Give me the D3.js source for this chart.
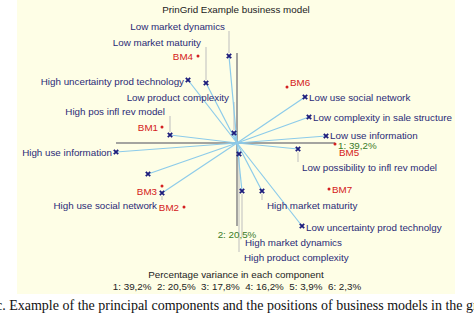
<!DOCTYPE html>
<html>
<head>
<meta charset="utf-8">
<title>PrinGrid</title>
<style>
  body { margin: 0; background: #fff; }
  svg { display: block; }
</style>
</head>
<body>
<script src="https://cdn.jsdelivr.net/npm/d3@7"></script>
<script>
// construct poles and their loadings on component 1 and 2
var poles = ["Low market dynamics", "Low market maturity", "High uncertainty prod technology",
  "Low product complexity", "High pos infl rev model", "High use information", "",
  "High use social network", "Low use social network", "Low complexity in sale structure",
  "Low use information", "Low possibility to infl rev model", "High product complexity",
  "High market dynamics", "High market maturity", "Low uncertainty prod technolgy"];
var poleC1 = [-0.08, -0.31, -0.49, -0.03, -0.67, -1.21, -0.89, -0.75, 0.68, 0.72, 0.89, 0.61, 0.02, 0.05, 0.25, 0.65];
var poleC2 = [0.87, 0.60, 0.63, 0.10, 0.08, -0.09, -0.31, -0.50, 0.46, 0.26, 0.07, -0.06, -0.11, -0.48, -0.48, -0.83];

// business models
var models = ["BM1", "BM2", "BM3", "BM4", "BM5", "BM6", "BM7"];
var modelC1 = [-0.75, -0.53, -0.75, -0.39, 0.98, 0.50, 0.92];
var modelC2 = [0.16, -0.64, -0.43, 0.87, -0.01, 0.56, -0.46];

// axis extents
var axis1 = [-1.21, 0.98];
var axis2 = [-0.83, 0.90];
var variance = [39.2, 20.5, 17.8, 16.2, 3.9, 2.3];

// label placement (pixels from marker): dx, dy, anchor
var poleLabelPos = [[-4, -30, "end"], [-5, -41, "end"], [-4, 1, "end"], [-5, -36, "end"],
  [-5, -24, "end"], [-4, 0, "end"], null, [-5, 12, "end"], [4, 0, "start"], [4, 0, "start"],
  [4, -1, "start"], [4, 18, "start"], [5, 103, "start"], [3, 51, "start"], [5, 14, "start"],
  [4, 1, "start"]];
var modelLabelPos = [[-4, 0, "end"], [-5, 0, "end"], [-5, 5, "end"], [-5, 0, "end"],
  [4, 8, "start"], [3, -5, "start"], [3, 0, "start"]];

var width = 474, height = 313;
var font = "'Liberation Sans', Arial, sans-serif";
var fmt = function(v) { return String(v.toFixed(1)).replace(".", ","); };

var svg = d3.select("body").append("svg")
  .attr("width", width).attr("height", height);

svg.append("rect")
  .attr("x", 17).attr("y", 0).attr("width", 438).attr("height", 294)
  .attr("fill", "#fefee6");

var x = d3.scaleLinear().domain([-1, 1]).range([137, 337]);
var y = d3.scaleLinear().domain([-1, 1]).range([243, 43]);

var pts = poles.map(function(p, i) {
  return {name: p, x: x(poleC1[i]), y: y(poleC2[i]), lp: poleLabelPos[i]};
});
var bms = models.map(function(m, i) {
  return {name: m, x: x(modelC1[i]), y: y(modelC2[i]), lp: modelLabelPos[i]};
});

// leader lines
svg.selectAll(".leader")
  .data(pts.filter(function(d) { return d.lp && Math.abs(d.lp[1]) > 6; }))
  .enter().append("line")
  .attr("x1", function(d) { return d.x; })
  .attr("y1", function(d) { return d.y + (d.lp[1] > 0 ? 3 : -3); })
  .attr("x2", function(d) { return d.x; })
  .attr("y2", function(d) { return d.y + d.lp[1] + (d.lp[1] > 0 ? -5 : 5); })
  .attr("stroke", "#deded2").attr("stroke-width", 2);

// axes
svg.append("line")
  .attr("x1", x(axis1[0])).attr("x2", x(axis1[1]))
  .attr("y1", y(0)).attr("y2", y(0))
  .attr("stroke", "#a4a4a0").attr("stroke-width", 2);
svg.append("line")
  .attr("x1", x(0)).attr("x2", x(0))
  .attr("y1", y(axis2[0])).attr("y2", y(axis2[1]))
  .attr("stroke", "#a4a4a0").attr("stroke-width", 2);

// vectors
svg.selectAll(".vec").data(pts).enter().append("line")
  .attr("x1", x(0)).attr("y1", y(0))
  .attr("x2", function(d) { return d.x; })
  .attr("y2", function(d) { return d.y; })
  .attr("stroke", "#8ccbea").attr("stroke-width", 1.2);

// markers
var mk = svg.selectAll(".mk").data(pts).enter().append("g")
  .attr("transform", function(d) { return "translate(" + d.x + "," + d.y + ")"; });
mk.append("path")
  .attr("d", "M-2.2,-2.2L2.2,2.2M-2.2,2.2L2.2,-2.2")
  .attr("stroke", "#1c1c7c").attr("stroke-width", 1.8);

svg.selectAll(".plab").data(pts.filter(function(d) { return d.lp; })).enter().append("text")
  .attr("x", function(d) { return d.x + d.lp[0]; })
  .attr("y", function(d) { return d.y + d.lp[1]; })
  .attr("text-anchor", function(d) { return d.lp[2]; })
  .attr("dominant-baseline", "central")
  .attr("font-family", font).attr("font-size", 9.8)
  .attr("fill", "#2a2a76")
  .text(function(d) { return d.name; });

// business models
svg.selectAll(".bm").data(bms).enter().append("circle")
  .attr("cx", function(d) { return d.x; })
  .attr("cy", function(d) { return d.y; })
  .attr("r", 1.5).attr("fill", "#d42020");
svg.selectAll(".bmlab").data(bms).enter().append("text")
  .attr("x", function(d) { return d.x + d.lp[0]; })
  .attr("y", function(d) { return d.y + d.lp[1]; })
  .attr("text-anchor", function(d) { return d.lp[2]; })
  .attr("dominant-baseline", "central")
  .attr("font-family", font).attr("font-size", 9.8)
  .attr("fill", "#d42020")
  .text(function(d) { return d.name; });

// axis labels
svg.append("text")
  .attr("x", x(axis1[1]) + 3).attr("y", y(0) + 2)
  .attr("dominant-baseline", "central")
  .attr("font-family", font).attr("font-size", 9.8).attr("fill", "#3a7a26")
  .text("1: " + fmt(variance[0]) + "%");
svg.append("text")
  .attr("x", x(0)).attr("y", y(axis2[0]) + 8)
  .attr("text-anchor", "middle")
  .attr("dominant-baseline", "central")
  .attr("font-family", font).attr("font-size", 9.8).attr("fill", "#3a7a26")
  .text("2: " + fmt(variance[1]) + "%");

// title and footer
svg.append("text")
  .attr("x", 236).attr("y", 9)
  .attr("text-anchor", "middle").attr("dominant-baseline", "central")
  .attr("font-family", font).attr("font-size", 9.8).attr("fill", "#222")
  .text("PrinGrid Example business model");
svg.append("text")
  .attr("x", 236).attr("y", 274)
  .attr("text-anchor", "middle").attr("dominant-baseline", "central")
  .attr("font-family", font).attr("font-size", 9.8).attr("fill", "#222")
  .text("Percentage variance in each component");
svg.append("text")
  .attr("x", 237).attr("y", 286)
  .attr("text-anchor", "middle").attr("dominant-baseline", "central")
  .attr("font-family", font).attr("font-size", 9.8).attr("fill", "#222")
  .text(variance.map(function(v, i) { return (i + 1) + ": " + fmt(v) + "%"; }).join("  "))
  .style("white-space", "pre");

// caption
svg.append("text")
  .attr("x", -4).attr("y", 310)
  .attr("font-family", "'Liberation Serif', 'Times New Roman', serif")
  .attr("font-size", 14).attr("fill", "#111")
  .text("c. Example of the principal components and the positions of business models in the grid");
</script>
</body>
</html>
